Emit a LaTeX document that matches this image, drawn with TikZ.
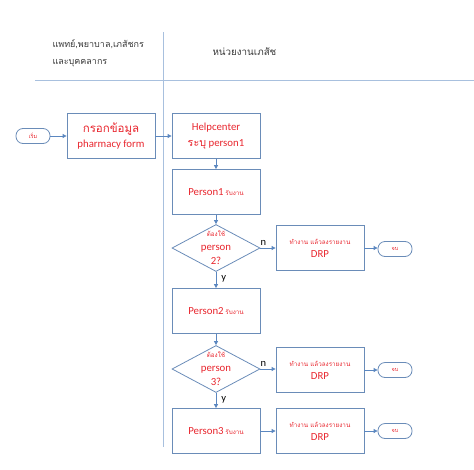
\documentclass[tikz,border=0pt]{standalone}
\usepackage{fontspec}
\setmainfont{Carlito}
\newfontfamily\thai[Script=Thai]{Loma}
\usetikzlibrary{shapes.geometric,arrows.meta}
\definecolor{boxc}{HTML}{6A8CB8}
\definecolor{arrc}{HTML}{5B87C0}
\definecolor{sepc}{HTML}{A8C0DE}
\definecolor{txtred}{HTML}{E8262E}
\definecolor{hdr}{HTML}{3A3A3A}
\newcommand{\tthai}[1]{{\thai\fontsize{6.3}{7}\selectfont #1}}
\begin{document}
\begin{tikzpicture}[x=1pt,y=-1pt,
 proc/.style={draw=boxc, line width=0.8pt, minimum width=88pt, minimum height=45pt, inner sep=1pt, text=txtred, align=center, font=\fontsize{10.8}{15.5}\selectfont},
 term/.style={draw=boxc, line width=0.8pt, rounded corners=7pt, minimum width=34pt, minimum height=15pt, inner sep=0pt, text=txtred, font=\thai\fontsize{5.5}{6}\selectfont},
 dec/.style={draw=boxc, line width=0.8pt, diamond, minimum width=88pt, minimum height=47pt, inner sep=0pt},
 dectext/.style={text=txtred, align=center, font=\fontsize{10.8}{14}\selectfont},
 flow/.style={draw=arrc, line width=0.8pt, -{Triangle[width=4pt,length=4pt]}},
 sep/.style={draw=sepc, line width=1pt},
 hdrtext/.style={text=hdr, font=\thai\fontsize{9}{17}\selectfont, align=left},
 yn/.style={text=black, font=\fontsize{10.5}{12}\selectfont, inner sep=0pt}
]
\useasboundingbox (0,0) rectangle (474,469);
% lanes
\draw[sep] (163,32) -- (163,447);
\draw[sep] (35,80) -- (474,80);
\node[hdrtext, anchor=west] (h1) at (49,53) {แพทย์,พยาบาล,เภสัชกร\\และบุคคลากร};
\node[hdrtext, anchor=west, font=\thai\fontsize{9.8}{17}\selectfont] (h2) at (209,52) {หน่วยงานเภสัช};
% nodes
\node[term] (start) at (33,136) {เริ่ม};
\node[proc] (form) at (111,136) {{\thai\fontsize{11.5}{15}\selectfont กรอกข้อมูล}\\pharmacy form};
\node[proc] (help) at (216,136) {Helpcenter\\{\thai ระบุ} person1};
\node[proc] (p1) at (216,192) {Person1\,\tthai{รับงาน}};
\node[dec, label={[dectext]center:{\tthai{ต้องใช้}\\person\\2?}}] (d1) at (216,248) {};
\node[proc, font=\fontsize{10.8}{13}\selectfont] (drp1) at (320,248) {\tthai{ทำงาน แล้วลงรายงาน}\\DRP};
\node[term] (e1) at (395,249) {จบ};
\node[proc] (p2) at (216,311) {Person2\,\tthai{รับงาน}};
\node[dec, label={[dectext]center:{\tthai{ต้องใช้}\\person\\3?}}] (d2) at (216,369) {};
\node[proc, font=\fontsize{10.8}{13}\selectfont] (drp2) at (320,370) {\tthai{ทำงาน แล้วลงรายงาน}\\DRP};
\node[term] (e2) at (395,370) {จบ};
\node[proc] (p3) at (216,431) {Person3\,\tthai{รับงาน}};
\node[proc, font=\fontsize{10.8}{13}\selectfont] (drp3) at (320,431) {\tthai{ทำงาน แล้วลงรายงาน}\\DRP};
\node[term] (e3) at (395,431) {จบ};
% connectors
\draw[flow] (start) -- (form);
\draw[flow] (form) -- (help);
\draw[flow] (help) -- (p1);
\draw[flow] (p1) -- (d1);
\draw[flow] (d1.east) -- node[yn, pos=0.2, above=2pt] {n} (d1.east -| drp1.west);
\draw[flow] (drp1.east) -- (drp1.east -| e1.west);
\draw[flow] (d1) -- node[yn, pos=0.45, right=5pt] {y} (p2);
\draw[flow] (p2) -- (d2);
\draw[flow] (d2.east) -- node[yn, pos=0.2, above=2pt] {n} (d2.east -| drp2.west);
\draw[flow] (drp2) -- (e2);
\draw[flow] (d2) -- node[yn, pos=0.45, right=5pt] {y} (p3);
\draw[flow] (p3) -- (drp3);
\draw[flow] (drp3) -- (e3);
\end{tikzpicture}
\end{document}
